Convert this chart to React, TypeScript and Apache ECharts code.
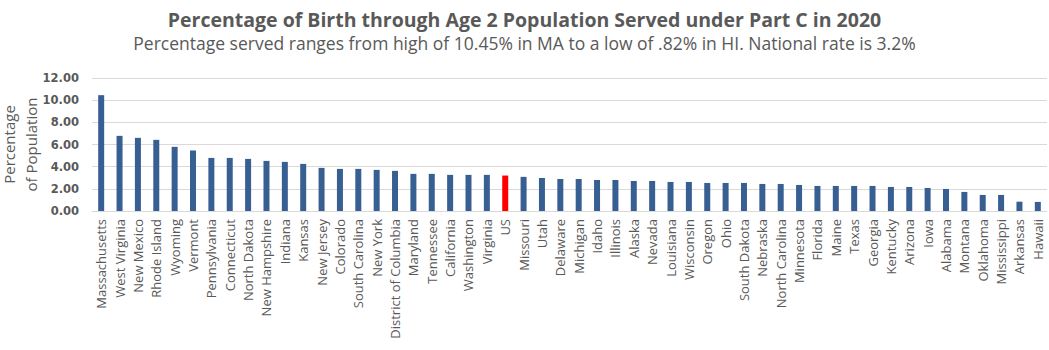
import React, { useEffect, useRef } from "react";
import * as echarts from "echarts";

const states: string[] = [
  "Massachusetts", "West Virginia", "New Mexico", "Rhode Island", "Wyoming", "Vermont",
  "Pennsylvania", "Connecticut", "North Dakota", "New Hampshire", "Indiana", "Kansas",
  "New Jersey", "Colorado", "South Carolina", "New York", "District of Columbia", "Maryland",
  "Tennessee", "California", "Washington", "Virginia", "US", "Missouri", "Utah", "Delaware",
  "Michigan", "Idaho", "Illinois", "Alaska", "Nevada", "Louisiana", "Wisconsin", "Oregon",
  "Ohio", "South Dakota", "Nebraska", "North Carolina", "Minnesota", "Florida", "Maine",
  "Texas", "Georgia", "Kentucky", "Arizona", "Iowa", "Alabama", "Montana", "Oklahoma",
  "Mississippi", "Arkansas", "Hawaii",
];

const percentServed: number[] = [
  10.45, 6.78, 6.6, 6.42, 5.79, 5.46,
  4.79, 4.79, 4.7, 4.52, 4.43, 4.25,
  3.89, 3.8, 3.8, 3.71, 3.62, 3.35,
  3.35, 3.26, 3.26, 3.26, 3.2, 3.08, 2.98, 2.89,
  2.89, 2.8, 2.8, 2.71, 2.71, 2.62, 2.62, 2.53,
  2.53, 2.53, 2.44, 2.44, 2.35, 2.26, 2.26,
  2.26, 2.26, 2.17, 2.17, 2.08, 1.99, 1.72, 1.45,
  1.45, 0.84, 0.82,
];

const highlight = "US";
const titleText = "Percentage of Birth through Age 2 Population Served under Part C in 2020";
const subtitleText = "Percentage served ranges from high of 10.45% in MA to a low of .82% in HI. National rate is 3.2%";

export default function App() {
  const ref = useRef<HTMLDivElement>(null);
  useEffect(() => {
    if (!ref.current) return;
    const chart = echarts.init(ref.current, null, { renderer: "svg" });
    chart.setOption({
      animation: false,
      backgroundColor: "#ffffff",
      title: {
        text: titleText,
        subtext: subtitleText,
        left: "center",
        top: 4,
        itemGap: 5,
        textStyle: { fontFamily: "Open Sans", fontWeight: "bold", fontSize: 19.5, color: "#595959" },
        subtextStyle: { fontFamily: "Open Sans", fontSize: 17.5, color: "#595959" },
      },
      grid: { left: 92, right: 2, top: 78, bottom: 139, containLabel: false, outerBoundsMode: "none" },
      xAxis: {
        type: "category",
        data: states,
        axisLine: { lineStyle: { color: "#D9D9D9" } },
        axisTick: { show: false },
        axisLabel: {
          interval: 0,
          rotate: 90,
          fontFamily: "Open Sans",
          fontSize: 13,
          color: "#595959",
          margin: 8,
        },
      },
      yAxis: {
        type: "value",
        min: 0,
        max: 12,
        interval: 2,
        name: "Percentage\nof Population",
        nameLocation: "middle",
        nameRotate: 90,
        nameGap: 50,
        nameMoveOverlap: false,
        nameTextStyle: { fontFamily: "Open Sans", fontSize: 15, color: "#595959", lineHeight: 22 },
        axisLine: { show: false },
        axisTick: { show: false },
        splitLine: { lineStyle: { color: "#D9D9D9" } },
        axisLabel: {
          formatter: (v: number) => v.toFixed(2),
          fontFamily: "DejaVu Sans",
          fontWeight: "bold",
          fontSize: 11.5,
          color: "#595959",
          margin: 13,
        },
      },
      series: [
        {
          type: "bar",
          barWidth: 6,
          data: percentServed.map((v, i) => ({
            value: v,
            itemStyle: { color: states[i] === highlight ? "#FF0000" : "#375F92" },
          })),
        },
      ],
    });
    return () => chart.dispose();
  }, []);
  return (
    <div
      ref={ref}
      style={{ position: "absolute", left: 0, top: 0, width: 1049, height: 350 }}
    />
  );
}
